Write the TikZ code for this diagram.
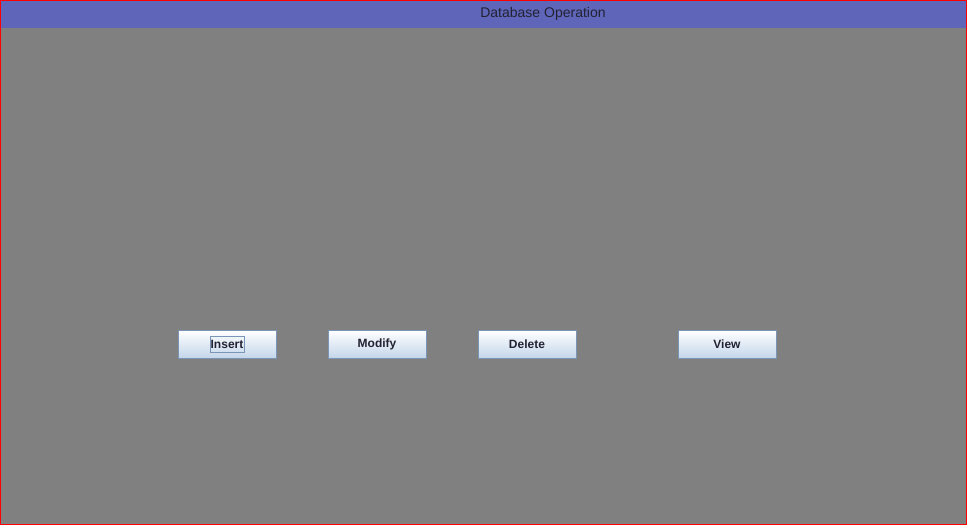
\documentclass[tikz,border=0pt]{standalone}
\usepackage{fontspec}
\setmainfont{Liberation Sans}
\definecolor{bar}{HTML}{5F66B9}
\definecolor{bg}{HTML}{808080}
\definecolor{btnb}{HTML}{7A95B5}
\definecolor{btnlo}{HTML}{C4D6EA}
\definecolor{txt}{HTML}{222233}
\begin{document}
\begin{tikzpicture}[x=1pt,y=-1pt,
  btn/.style={draw=btnb,line width=1pt,top color=white,bottom color=btnlo,minimum width=98pt,minimum height=28pt,inner sep=0pt,font=\fontsize{12}{14}\selectfont\bfseries,text=txt}]
\useasboundingbox (0,0) rectangle (967,525);
\fill[bg] (0,0) rectangle (967,525);
\fill[bar] (0,0) rectangle (967,28);
\draw[red,line width=1.2pt] (0.6,0.6) rectangle (966.4,524.4);
\node[text=txt,font=\fontsize{14}{16}\selectfont] (title) at (543,14) {Database Operation};
\node[btn] (insert) at (227,344) {Insert};
\draw[btnb,line width=0.8pt] ([xshift=-17pt,yshift=-8pt]insert.center) rectangle ([xshift=17pt,yshift=8pt]insert.center);
\node[btn] (modify) at (377,344) {Modify};
\node[btn] (delete) at (527,344) {Delete};
\node[btn] (view) at (727,344) {View};
\end{tikzpicture}
\end{document}
